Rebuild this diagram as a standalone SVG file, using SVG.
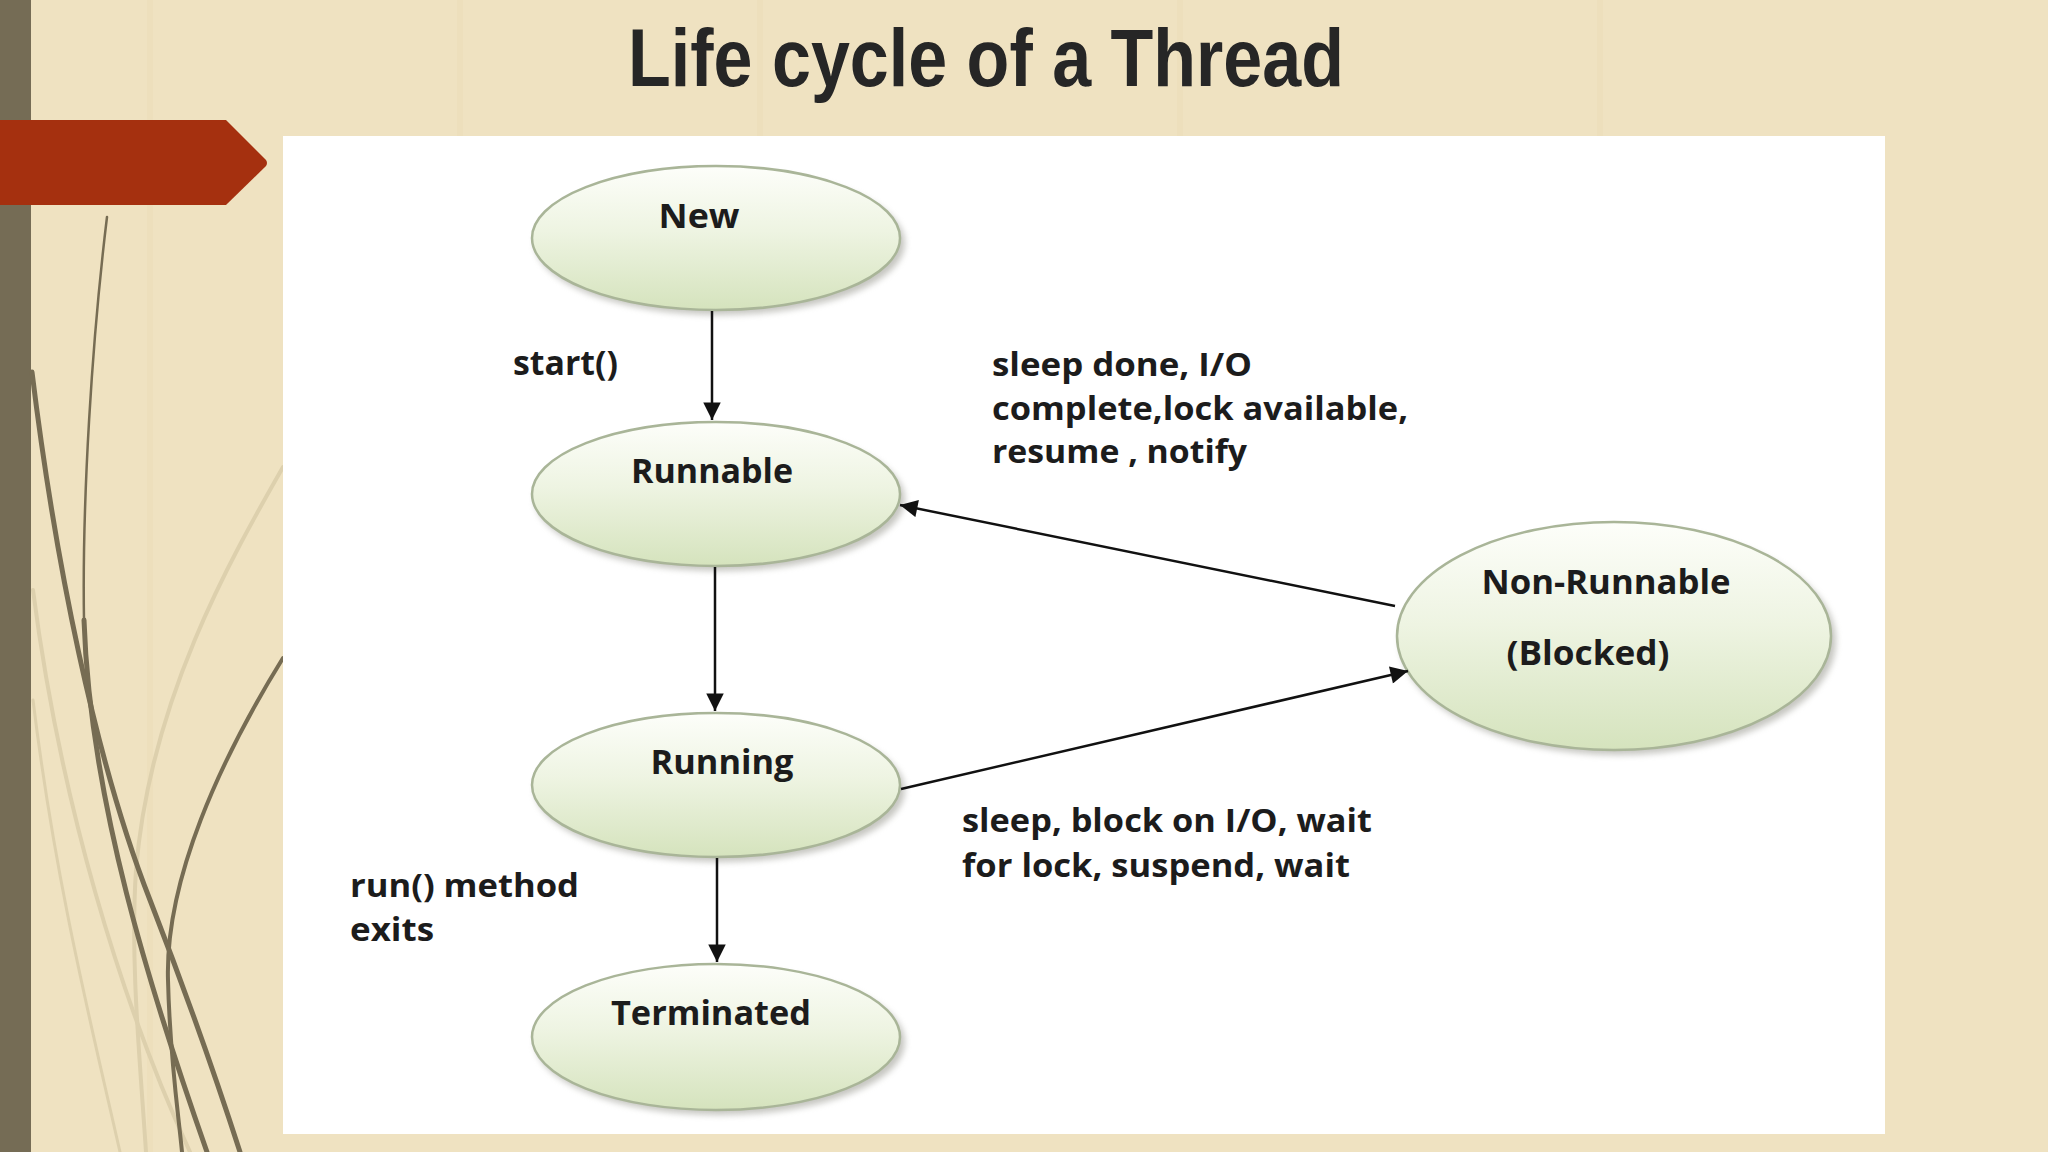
<svg xmlns="http://www.w3.org/2000/svg" width="2048" height="1152" viewBox="0 0 2048 1152">
<style>
.lbl{font-family:"Open Sans","DejaVu Sans",sans-serif;font-weight:700;font-size:34px;fill:#1c1c1c}
.sm{font-size:32px}
.node{fill:url(#ng);stroke:#a9b598;stroke-width:2.5}
.shadow{fill:#8e8e84;opacity:0.5;filter:url(#blur)}
.edge{stroke:#111;stroke-width:2.5;fill:none;marker-end:url(#ah)}
.deco{fill:none;stroke:#766c53;stroke-linecap:round}
.decoL{fill:none;stroke:#ddd0ad;stroke-linecap:round}
</style>
<defs>
<linearGradient id="ng" x1="0" y1="0" x2="0" y2="1">
<stop offset="0" stop-color="#fdfefa"/>
<stop offset="0.45" stop-color="#eef4e2"/>
<stop offset="1" stop-color="#d5e3bd"/>
</linearGradient>
<filter id="blur" x="-10%" y="-10%" width="120%" height="120%"><feGaussianBlur stdDeviation="3"/></filter>
<marker id="ah" viewBox="0 0 10 10" refX="10" refY="5" markerWidth="8" markerHeight="7" markerUnits="strokeWidth" orient="auto">
<path d="M0,0 L10,5 L0,10 z" fill="#111"/>
</marker>
</defs>

<!-- background -->
<rect x="0" y="0" width="2048" height="1152" fill="#efe2c1"/>
<g opacity="0.15" stroke="#e2d1a6" stroke-width="6">
<line x1="460" y1="0" x2="460" y2="136"/><line x1="760" y1="0" x2="760" y2="136"/><line x1="1180" y1="0" x2="1180" y2="136"/><line x1="1600" y1="0" x2="1600" y2="136"/><line x1="150" y1="0" x2="150" y2="1152"/>
</g>
<rect x="0" y="0" width="31" height="1152" fill="#756c55"/>

<!-- decorative curves -->
<path class="decoL" stroke-width="4" d="M283,467 C230,560 150,700 136,870 C130,960 140,1060 146,1152"/>
<path class="decoL" stroke-width="4" d="M33,590 C60,800 120,1000 190,1152"/>
<path class="decoL" stroke-width="3" d="M33,700 C55,880 90,1020 120,1152"/>
<path class="deco" stroke-width="2.5" d="M107,217 C92,340 82,500 84,620"/>
<path class="deco" stroke-width="5" d="M84,620 C90,800 150,990 207,1152"/>
<path class="deco" stroke-width="5" d="M32,372 C55,560 95,760 150,900 C185,990 220,1090 240,1152"/>
<path class="deco" stroke-width="4" d="M283,658 C220,760 165,880 168,980 C170,1060 178,1110 182,1152"/>

<!-- red arrow tab -->
<path d="M0,120 L226,120 L266,160 Q268,163 266,166 L226,205 L0,205 z" fill="#a5300f"/>

<!-- title -->
<text x="628" y="86" font-family="'Liberation Sans',Arial,sans-serif" font-weight="700" font-size="82" fill="#262626" textLength="716" lengthAdjust="spacingAndGlyphs">Life cycle of a Thread</text>

<!-- white panel -->
<rect x="283" y="136" width="1602" height="998" fill="#ffffff"/>

<!-- nodes -->
<g id="node-new">
<ellipse class="shadow" cx="720" cy="243" rx="185" ry="72"/>
<ellipse class="node" cx="716" cy="238" rx="184" ry="72"/>
<text class="lbl" x="699" y="228" text-anchor="middle" textLength="81" lengthAdjust="spacingAndGlyphs">New</text>
</g>
<g id="node-runnable">
<ellipse class="shadow" cx="720" cy="499" rx="185" ry="72"/>
<ellipse class="node" cx="716" cy="494" rx="184" ry="72"/>
<text class="lbl" x="712" y="483" text-anchor="middle" textLength="162" lengthAdjust="spacingAndGlyphs">Runnable</text>
</g>
<g id="node-running">
<ellipse class="shadow" cx="720" cy="790" rx="185" ry="72"/>
<ellipse class="node" cx="716" cy="785" rx="184" ry="72"/>
<text class="lbl" x="722" y="774" text-anchor="middle" textLength="143" lengthAdjust="spacingAndGlyphs">Running</text>
</g>
<g id="node-terminated">
<ellipse class="shadow" cx="720" cy="1042" rx="185" ry="73"/>
<ellipse class="node" cx="716" cy="1037" rx="184" ry="73"/>
<text class="lbl" x="711" y="1025" text-anchor="middle" textLength="200" lengthAdjust="spacingAndGlyphs">Terminated</text>
</g>
<g id="node-nonrunnable">
<ellipse class="shadow" cx="1618" cy="641" rx="218" ry="114"/>
<ellipse class="node" cx="1614" cy="636" rx="217" ry="114"/>
<text class="lbl" x="1606" y="594" text-anchor="middle" textLength="249" lengthAdjust="spacingAndGlyphs">Non-Runnable</text>
<text class="lbl" x="1588" y="665" text-anchor="middle" textLength="163" lengthAdjust="spacingAndGlyphs">(Blocked)</text>
</g>

<!-- connectors -->
<g id="connectors">
<line class="edge" x1="712" y1="311" x2="712" y2="420"/>
<line class="edge" x1="715" y1="567" x2="715" y2="711"/>
<line class="edge" x1="717" y1="858" x2="717" y2="962"/>
<line class="edge" x1="1395" y1="606" x2="900" y2="505"/>
<line class="edge" x1="901" y1="789" x2="1408" y2="671"/>
</g>

<!-- edge labels -->
<g id="edge-labels">
<text class="lbl" x="513" y="375" textLength="105" lengthAdjust="spacingAndGlyphs">start()</text>
<text class="lbl sm" x="992" y="376" textLength="260" lengthAdjust="spacingAndGlyphs">sleep done, I/O</text>
<text class="lbl sm" x="992" y="420" textLength="416" lengthAdjust="spacingAndGlyphs">complete,lock available,</text>
<text class="lbl sm" x="992" y="463" textLength="255" lengthAdjust="spacingAndGlyphs">resume , notify</text>
<text class="lbl sm" x="962" y="832" textLength="410" lengthAdjust="spacingAndGlyphs">sleep, block on I/O, wait</text>
<text class="lbl sm" x="962" y="877" textLength="388" lengthAdjust="spacingAndGlyphs">for lock, suspend,  wait</text>
<text class="lbl sm" x="350" y="897" textLength="229" lengthAdjust="spacingAndGlyphs">run() method</text>
<text class="lbl sm" x="350" y="941" textLength="84" lengthAdjust="spacingAndGlyphs">exits</text>
</g>
</svg>
